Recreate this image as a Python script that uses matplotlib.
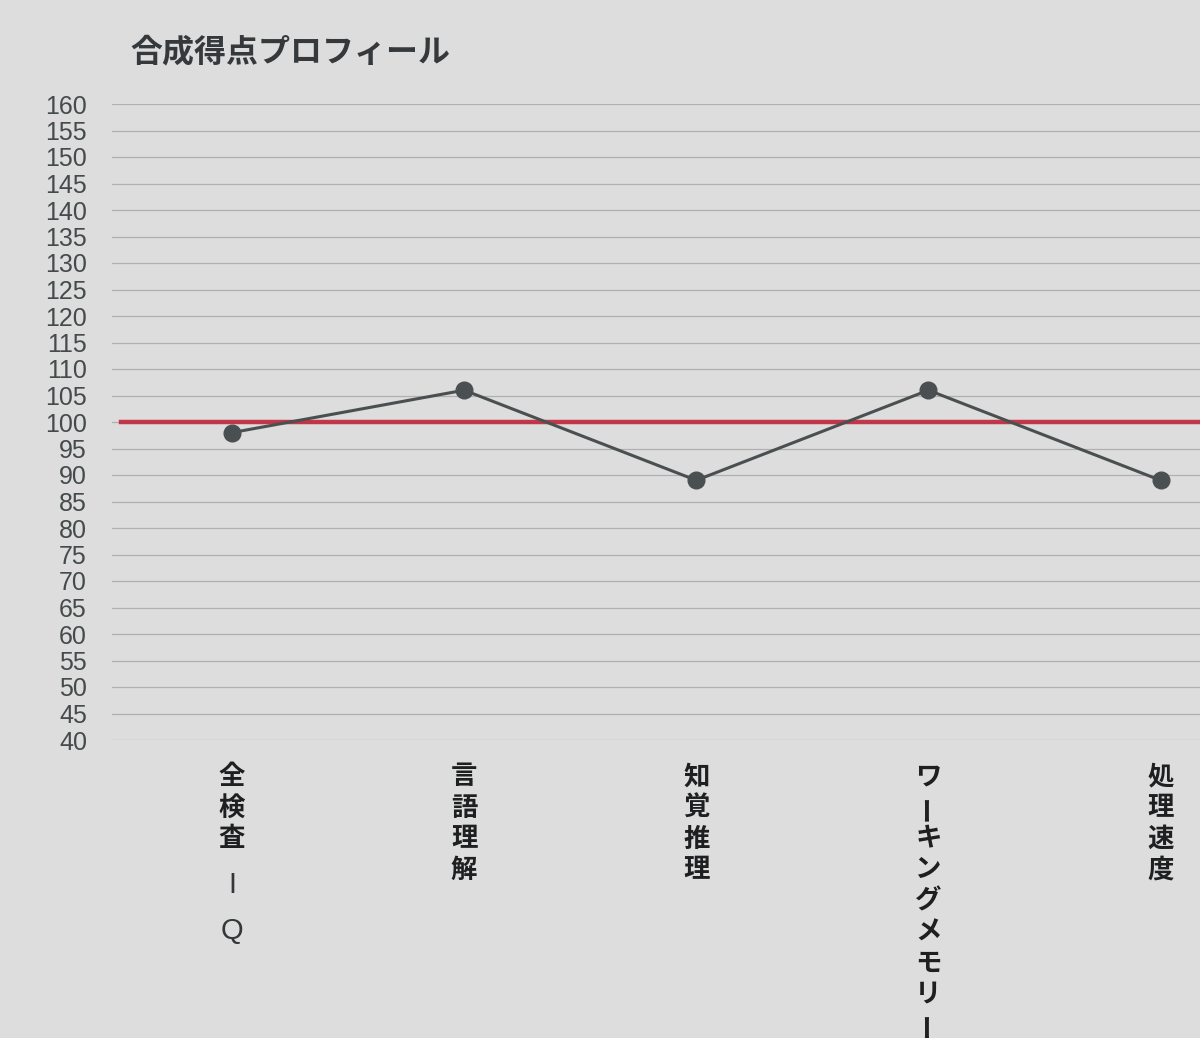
import matplotlib
matplotlib.use("Agg")
import matplotlib.pyplot as plt
from matplotlib.transforms import blended_transform_factory

# ---- data ----
title = "合成得点プロフィール"
categories = ["全検査IQ", "言語理解", "知覚推理", "ワーキングメモリー", "処理速度"]
scores = [98, 106, 89, 106, 89]
mean_score = 100
y_ticks = list(range(40, 161, 5))

plt.rcParams['font.family'] = ['Noto Sans CJK JP', 'DejaVu Sans']

W, H = 1200, 1038
bg = '#dcdddc'
fig = plt.figure(figsize=(W / 100, H / 100), dpi=100, facecolor=bg)

left_px, right_px = 112, 1200
top_px, bottom_px = 104, 740
ax = fig.add_axes([left_px / W, (H - bottom_px) / H,
                   (right_px - left_px) / W, (bottom_px - top_px) / H])
ax.set_facecolor(bg)

x = list(range(len(categories)))
ax.set_xlim(-0.517, 4.17)
ax.set_ylim(40, 160)

# gridlines
for v in y_ticks:
    ax.axhline(v, color='#b0b0b0', lw=0.9, zorder=1)

# mean line (red)
ax.axhline(mean_score, xmin=0.008, xmax=1.0, color='#c0263a', lw=3.2, alpha=0.9, zorder=2)

# profile line
ax.plot(x, scores, color='#4a5051', lw=2.2, marker='o', markersize=12,
        markerfacecolor='#4a5051', markeredgecolor='#4a5051', zorder=3,
        clip_on=False)

ax.set_yticks(y_ticks)
ax.set_yticklabels([str(v) for v in y_ticks], fontsize=18, color='#454a4c',
                   family=['Liberation Sans', 'DejaVu Sans'])
ax.tick_params(axis='y', length=0, pad=18)
ax.set_xticks([])
for s in ax.spines.values():
    s.set_visible(False)

# vertical category labels (stacked characters)
tr = blended_transform_factory(ax.transData, fig.transFigure)
start_px = 777
for xi, cat in zip(x, categories):
    ypx = start_px
    prev_latin = False
    for i, ch in enumerate(cat):
        latin = ch.isascii()
        if i > 0:
            ypx += 46 if (latin or prev_latin) else 31
        rot = 90 if ch == 'ー' else 0
        ax.text(xi, (H - ypx) / H, ch, transform=tr, ha='center', va='center',
                fontsize=19 if not latin else 21, rotation=rot,
                fontweight='normal' if latin else 'bold',
                family=['Liberation Sans', 'DejaVu Sans'] if latin else ['Noto Sans CJK JP', 'DejaVu Sans'],
                color='#33373a' if latin else '#1e1f20', clip_on=False)
        prev_latin = latin

fig.text(130 / W, (H - 52) / H, title, fontsize=23, fontweight='bold',
         color='#35393b', ha='left', va='center')

fig.savefig('out.png', dpi=100, facecolor=bg)
